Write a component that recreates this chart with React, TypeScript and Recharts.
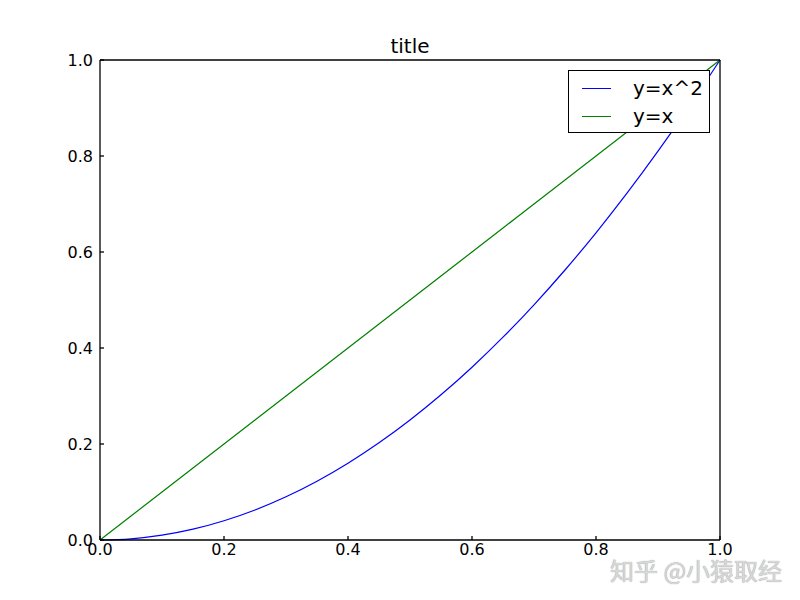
import React from "react";
import { LineChart, Line, XAxis, YAxis } from "recharts";

// x samples and readings of both curves
const xs = [0, 0.05, 0.1, 0.15, 0.2, 0.25, 0.3, 0.35, 0.4, 0.45, 0.5, 0.55, 0.6, 0.65, 0.7, 0.75, 0.8, 0.85, 0.9, 0.95, 1.0];
const squared = [0, 0.0025, 0.01, 0.0225, 0.04, 0.0625, 0.09, 0.1225, 0.16, 0.2025, 0.25, 0.3025, 0.36, 0.4225, 0.49, 0.5625, 0.64, 0.7225, 0.81, 0.9025, 1.0];
const linear = [0, 0.05, 0.1, 0.15, 0.2, 0.25, 0.3, 0.35, 0.4, 0.45, 0.5, 0.55, 0.6, 0.65, 0.7, 0.75, 0.8, 0.85, 0.9, 0.95, 1.0];
const ticks = [0, 0.2, 0.4, 0.6, 0.8, 1.0];

const data = xs.map((x, i) => ({ x, sq: squared[i], lin: linear[i] }));

const SERIES = [
  { key: "sq", name: "y=x^2", color: "#0000ff" },
  { key: "lin", name: "y=x", color: "#008000" },
];

const FONT = "'DejaVu Sans', sans-serif";
const fmt = (v: number) => v.toFixed(1);

// matplotlib classic style legend box, laid over the plot
const LegendBox = () => (
  <div
    style={{
      position: "absolute",
      left: 568,
      top: 70,
      width: 142,
      height: 63,
      border: "1px solid #000",
      background: "#fff",
      boxSizing: "border-box",
      padding: "3px 0 0 13px",
      fontFamily: FONT,
      fontSize: 20,
    }}
  >
    {SERIES.map((s) => (
      <div key={s.key} style={{ display: "flex", alignItems: "center", height: 28 }}>
        <div style={{ width: 29, height: 0, borderTop: `1px solid ${s.color}` }} />
        <span style={{ marginLeft: 22, lineHeight: "20px" }}>{s.name}</span>
      </div>
    ))}
  </div>
);

export default function App() {
  const tickStyle = { fontSize: 16, fill: "#000", fontFamily: FONT };
  return (
    <div style={{ position: "absolute", left: 0, top: 0, width: 800, height: 600, background: "#fff" }}>
      <div
        style={{
          position: "absolute",
          left: 100,
          width: 620,
          top: 34,
          textAlign: "center",
          fontFamily: FONT,
          fontSize: 20,
          lineHeight: "24px",
        }}
      >
        title
      </div>
      <LineChart width={800} height={600} data={data} margin={{ top: 59, right: 79, left: 0, bottom: 0 }}>
        <XAxis
          dataKey="x"
          type="number"
          domain={[0, 1]}
          ticks={ticks}
          tickFormatter={fmt}
          tickSize={-4}
          tickMargin={8}
          height={60}
          stroke="#000"
          strokeWidth={1.3}
          tick={tickStyle}
          interval={0}
        />
        <XAxis
          xAxisId="top"
          orientation="top"
          dataKey="x"
          type="number"
          domain={[0, 1]}
          ticks={ticks}
          tick={false}
          tickSize={-4}
          height={1}
          stroke="#000"
          strokeWidth={1.3}
          interval={0}
        />
        <YAxis
          type="number"
          domain={[0, 1]}
          ticks={ticks}
          tickFormatter={fmt}
          tickSize={-4}
          tickMargin={11}
          width={100}
          stroke="#000"
          strokeWidth={1.3}
          tick={tickStyle}
          interval={0}
        />
        <YAxis
          yAxisId="right"
          orientation="right"
          type="number"
          domain={[0, 1]}
          ticks={ticks}
          tick={false}
          tickSize={-4}
          width={1}
          stroke="#000"
          strokeWidth={1.3}
          interval={0}
        />
        {SERIES.map((s) => (
          <Line
            key={s.key}
            dataKey={s.key}
            name={s.name}
            stroke={s.color}
            strokeWidth={1.2}
            dot={false}
            type="monotone"
            isAnimationActive={false}
          />
        ))}
        {/* hidden series so the top and right frame axes get drawn */}
        <Line
          xAxisId="top"
          yAxisId="right"
          dataKey="lin"
          stroke="none"
          dot={false}
          legendType="none"
          isAnimationActive={false}
        />
      </LineChart>
      <LegendBox />
      <div
        style={{
          position: "absolute",
          left: 610,
          top: 552,
          fontFamily: "'Noto Sans CJK SC', sans-serif",
          fontSize: 24,
          color: "#d8d8d8",
          textShadow: "0 0 1px #888",
          whiteSpace: "nowrap",
        }}
      >
        知乎 @小猿取经
      </div>
    </div>
  );
}
